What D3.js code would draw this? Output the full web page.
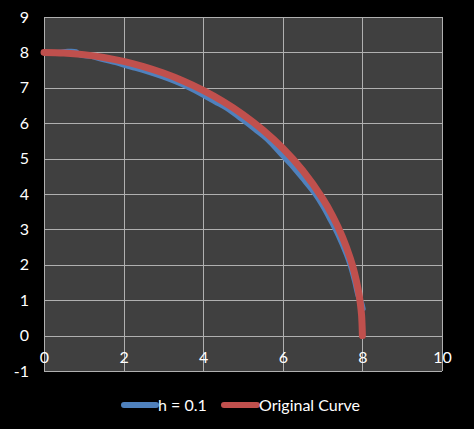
<!DOCTYPE html>
<html><head><meta charset="utf-8">
<script src="https://cdn.jsdelivr.net/npm/d3@7"></script>
<style>html,body{margin:0;padding:0;background:#000;}svg{display:block;}</style>
</head><body>
<script>
const xTicks = [0, 2, 4, 6, 8, 10];
const yTicks = [-1, 0, 1, 2, 3, 4, 5, 6, 7, 8, 9];
const seriesNames = ["h = 0.1", "Original Curve"];
const seriesColors = ["#4f81bd", "#c0504d"];

// h = 0.1 approximation
const eulerX = [0, 0.3, 0.6, 0.8, 0.9, 1.2, 1.5, 1.8, 2.0, 2.3, 2.6, 3.0, 3.3, 3.6, 4.0, 4.3, 4.6, 5.0, 5.3, 5.6, 6.0, 6.2, 6.5, 6.8, 7.0, 7.2, 7.4, 7.6, 7.7, 7.8, 7.9, 7.98, 8.02];
const eulerY = [8.0, 8.0, 8.03, 8.02, 7.93, 7.88, 7.79, 7.71, 7.64, 7.55, 7.45, 7.30, 7.17, 7.02, 6.79, 6.60, 6.41, 6.08, 5.82, 5.55, 5.07, 4.83, 4.43, 4.01, 3.66, 3.25, 2.81, 2.28, 1.96, 1.55, 1.09, 0.93, 0.76];

// Original curve
const origX = [0, 0.5, 1, 1.5, 2, 2.5, 3, 3.5, 4, 4.5, 5, 5.5, 6, 6.5, 7, 7.25, 7.5, 7.7, 7.8, 7.9, 7.95, 7.98, 8];
const origY = [8, 7.984, 7.937, 7.858, 7.746, 7.599, 7.416, 7.194, 6.928, 6.614, 6.245, 5.809, 5.292, 4.664, 3.873, 3.382, 2.784, 2.170, 1.778, 1.261, 0.893, 0.565, 0];

const W = 474, H = 429;
const svg = d3.select("body").append("svg").attr("width", W).attr("height", H);
svg.append("rect").attr("width", W).attr("height", H).attr("fill", "#000");

const x = d3.scaleLinear().domain([0, 10]).range([44, 442]);
const y = d3.scaleLinear().domain([-1, 9]).range([371, 17]);

svg.append("rect").attr("x", x(0)).attr("y", y(9))
  .attr("width", x(10) - x(0)).attr("height", y(-1) - y(9)).attr("fill", "#404040");

const grid = svg.append("g").attr("stroke", "#b0b0b0").attr("stroke-width", 1);
grid.selectAll("line.h").data(yTicks).join("line")
  .attr("x1", x(0)).attr("x2", x(10))
  .attr("y1", d => Math.round(y(d)) + 0.5).attr("y2", d => Math.round(y(d)) + 0.5);
grid.selectAll("line.v").data(xTicks).join("line")
  .attr("y1", y(9)).attr("y2", y(-1))
  .attr("x1", d => Math.round(x(d)) + 0.5).attr("x2", d => Math.round(x(d)) + 0.5);

const font = "Lato, 'Open Sans', sans-serif";
const fmt = d => String(d);
const yAxis = d3.axisLeft(y).tickValues(yTicks).tickSize(0).tickPadding(0).tickFormat(fmt);
const gy = svg.append("g").attr("transform", "translate(29,0)").call(yAxis);
gy.select(".domain").remove();
gy.selectAll("text").attr("fill", "#fff").attr("font-size", 16).attr("font-family", font);

const xAxis = d3.axisBottom(x).tickValues(xTicks).tickSize(0).tickPadding(0).tickFormat(fmt);
const gx = svg.append("g").attr("transform", `translate(0,${y(0) + 22})`).call(xAxis);
gx.select(".domain").remove();
gx.selectAll("text").attr("fill", "#fff").attr("font-size", 16).attr("font-family", font).attr("dy", "0.35em");

const mk = (xs, ys) => xs.map((v, i) => [v, ys[i]]);
const path = d3.line().x(d => x(d[0])).y(d => y(d[1])).curve(d3.curveCatmullRom.alpha(0.5));

svg.append("path").datum(mk(eulerX, eulerY)).attr("d", path)
  .attr("fill", "none").attr("stroke", seriesColors[0]).attr("stroke-width", 5)
  .attr("stroke-linecap", "round").attr("stroke-linejoin", "round");
svg.append("path").datum(mk(origX, origY)).attr("d", path)
  .attr("fill", "none").attr("stroke", seriesColors[1]).attr("stroke-width", 7)
  .attr("stroke-linecap", "round").attr("stroke-linejoin", "round");

// legend
const leg = [{x1: 124, x2: 156, tx: 158}, {x1: 224, x2: 257, tx: 259}];
const lg = svg.append("g");
seriesNames.forEach((name, i) => {
  lg.append("line").attr("x1", leg[i].x1).attr("x2", leg[i].x2).attr("y1", 405).attr("y2", 405)
    .attr("stroke", seriesColors[i]).attr("stroke-width", 6).attr("stroke-linecap", "round");
  lg.append("text").attr("x", leg[i].tx).attr("y", 405).attr("dy", "0.35em")
    .attr("fill", "#fff").attr("font-size", 16).attr("font-family", font).text(name);
});
</script>
</body></html>
